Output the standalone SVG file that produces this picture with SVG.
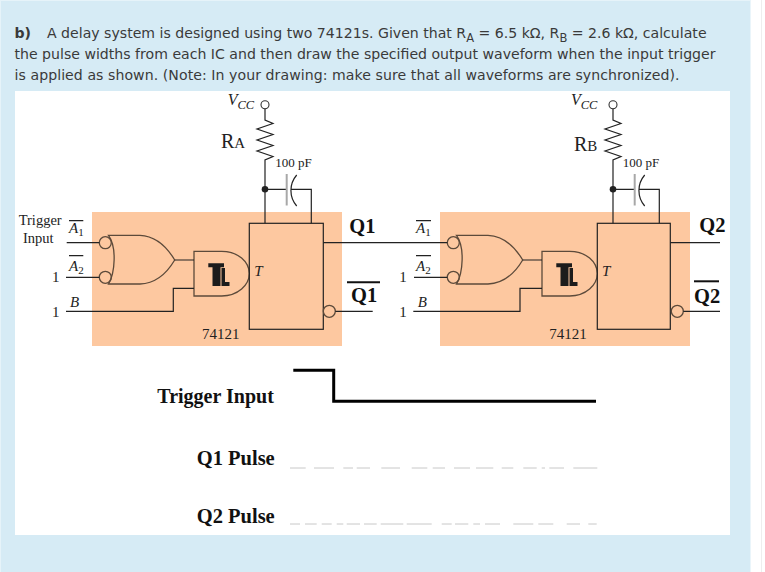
<svg xmlns="http://www.w3.org/2000/svg" width="765" height="572" viewBox="0 0 765 572">
<style>
.hd{font-family:"DejaVu Sans",Verdana,sans-serif;font-size:14.100px;fill:#3a3a3a}
.s{font-family:"Liberation Serif","Times New Roman",serif;fill:#222}
.i{font-style:italic}
.b{font-weight:bold;fill:#111}
.w{fill:none;stroke:#222;stroke-width:1.2}
.g{fill:none;stroke:#5c4a3a;stroke-width:1.3}
.d{fill:none;stroke:#c8c8c8;stroke-width:1}
</style>
<defs>
<g id="gates">
<circle class="g" cx="105.3" cy="242.7" r="6"/>
<circle class="g" cx="105.3" cy="277.3" r="6"/>
<path class="g" d="M108.5 235.3H140C155 236 167 247 174.7 260C167 273 155 283.500 140 284H108.500C115 273 117 247 108.500 235.300Z"/>
<path class="g" d="M194 251.300H221.700C238 251.300 249.300 262 249.300 273.600C249.300 285 238 296 221.700 296H194Z"/>
<path fill="#1c1c1c" d="M208.300 263.300H224V267.300H220.500V286H212.500V267.300H208.300ZM221.500 268H225V282H229.500V286H221.500Z"/>
</g>
<g id="supply">
<circle cx="265" cy="104.700" r="4" fill="#fff" stroke="#333" stroke-width="1.100"/>
<path class="w" d="M265 108.700V120L273 123.500L257 129L273 134.500L257 140L273 145.500L257 151L273 156.500L265 160V223.300"/>
<circle cx="265" cy="189.300" r="3.300" fill="#222"/>
<path class="w" d="M265 189.300H286M291 189.300H311.300V223.300"/>
<path d="M286.700 174V205.500" stroke="#a8a8a8" stroke-width="2" fill="none"/>
<path class="w" d="M296.700 175C289 184 289 197 296.700 206"/>
</g>
</defs>
<rect width="765" height="572" fill="#fff"/>
<rect width="750.500" height="572" fill="#d6ebf5"/>
<path d="M0.500 0V572M0 0.500H750" stroke="#e6f3f9" fill="none"/>
<path d="M761.500 0V572" stroke="#eeeeee" fill="none"/>
<rect x="15" y="91" width="715" height="444" fill="#fff"/>

<g id="question">
<text class="hd" x="14.500" y="38"><tspan font-weight="bold">b)</tspan><tspan x="47">A delay system is designed using two 74121s. Given that R</tspan><tspan font-size="11.500" dy="4">A</tspan><tspan dy="-4"> = 6.5 kΩ, R</tspan><tspan font-size="11.500" dy="4">B</tspan><tspan dy="-4"> = 2.6 kΩ, calculate</tspan></text>
<text class="hd" x="14.500" y="59" textLength="701">the pulse widths from each IC and then draw the specified output waveform when the input trigger</text>
<text class="hd" x="14.500" y="80" textLength="665">is applied as shown. (Note: In your drawing: make sure that all waveforms are synchronized).</text>
</g>

<g id="ic-1">
<rect x="92" y="212" width="250" height="134" fill="#fdc8a0"/>
<use href="#gates"/>
<rect class="w" x="249.300" y="223.300" width="74" height="106"/>
<circle class="g" cx="329.300" cy="311.300" r="6"/>
<text class="s" x="202" y="338.700" font-size="15">74121</text>
<text class="s i" x="254.300" y="276" font-size="15">T</text>
<text class="s" x="18.700" y="224.700" font-size="14.500">Trigger</text>
<text class="s" x="23" y="243" font-size="14.500">Input</text>
<text class="s i" x="69" y="233" font-size="15">A<tspan font-size="11" dy="3" font-style="normal">1</tspan></text>
<text class="s i" x="69" y="270.700" font-size="15">A<tspan font-size="11" dy="3" font-style="normal">2</tspan></text>
<path class="w" d="M69 220.700H83.300M69 255.700H83.300"/>
<text class="s i" x="70" y="307" font-size="15">B</text>
<text class="s" x="52" y="281.700" font-size="15">1</text>
<text class="s" x="52" y="316.700" font-size="15">1</text>
</g>
<g id="supply-1">
<use href="#supply"/>
<text class="s i" x="227.700" y="105" font-size="16">V<tspan font-size="12.500" dy="4">CC</tspan></text>
<text class="s" x="221" y="147.500" font-size="20">R<tspan font-size="15">A</tspan></text>
<text class="s" x="275.300" y="167" font-size="13">100 pF</text>
</g>

<g id="ic-2">
<rect x="440" y="212" width="250" height="134" fill="#fdc8a0"/>
<use href="#gates" x="348"/>
<rect class="w" x="597.300" y="223.300" width="73" height="106"/>
<circle class="g" cx="677.300" cy="311.300" r="6"/>
<text class="s" x="549.300" y="338.700" font-size="15">74121</text>
<text class="s i" x="602" y="276" font-size="15">T</text>
<text class="s i" x="416" y="233" font-size="15">A<tspan font-size="11" dy="3" font-style="normal">1</tspan></text>
<text class="s i" x="416" y="270.700" font-size="15">A<tspan font-size="11" dy="3" font-style="normal">2</tspan></text>
<path class="w" d="M416 220.700H431M416 255.700H431"/>
<text class="s i" x="417.700" y="307" font-size="15">B</text>
<text class="s" x="399.300" y="281.700" font-size="15">1</text>
<text class="s" x="399.300" y="316.700" font-size="15">1</text>
</g>
<g id="supply-2">
<use href="#supply" x="348"/>
<text class="s i" x="571" y="105" font-size="16">V<tspan font-size="12.500" dy="4">CC</tspan></text>
<text class="s" x="574" y="151" font-size="20">R<tspan font-size="15">B</tspan></text>
<text class="s" x="622.700" y="167" font-size="13">100 pF</text>
</g>

<g id="connectors">
<path class="w" d="M66.700 242.700H99.300M66 277.300H99.300M174.700 260H194M66 311.300H173.300V288.300H194"/>
<path class="w" d="M323.300 242.700H447.300M414 277.300H447.300M413.300 311.300H520V288.300H542M522.700 260H542"/>
<path class="w" d="M335.300 311.300H372.700M670.300 242.700H720M683.300 311.300H720"/>
</g>

<g id="outputs">
<text class="s b" x="349.300" y="232.700" font-size="20.500">Q1</text>
<text class="s b" x="351" y="301.700" font-size="20.500">Q1</text>
<path d="M347 282.300H380" stroke="#111" stroke-width="2" fill="none"/>
<text class="s b" x="699.300" y="231.700" font-size="20.500">Q2</text>
<text class="s b" x="694" y="303" font-size="20.500">Q2</text>
<path d="M694 281.300H719" stroke="#111" stroke-width="2" fill="none"/>
</g>

<g id="waveforms">
<text class="s b" x="157.300" y="403.300" font-size="20">Trigger Input</text>
<text class="s b" x="196.700" y="465" font-size="20.500">Q1 Pulse</text>
<text class="s b" x="196.700" y="522.700" font-size="20.500">Q2 Pulse</text>
<path d="M293.300 370.300H333.700V401.300H596" fill="none" stroke="#000" stroke-width="3"/>
<path class="d" d="M290 468H305.700M314 468H334M343.300 468H353M356.700 468H370M381.300 468H400M411.700 468H427.300M432.700 468H445M454 468H470M476 468H493.300M501.700 468H513.300M523.300 468H536.700M541.700 468H545M549.300 468H564M573.300 468H597.300"/>
<path class="d" d="M290 524H300M305 524H316.700M321.700 524H331.700M336.700 524H343.300M346.700 524H360M364 524H376.700M380.700 524H403.300M406.700 524H431.700M441.700 524H451.700M455 524H468.300M473.300 524H480M485 524H500M513.300 524H533.300M538.300 524H553.300M566.700 524H580M588.300 524H596.700"/>
</g>
</svg>
